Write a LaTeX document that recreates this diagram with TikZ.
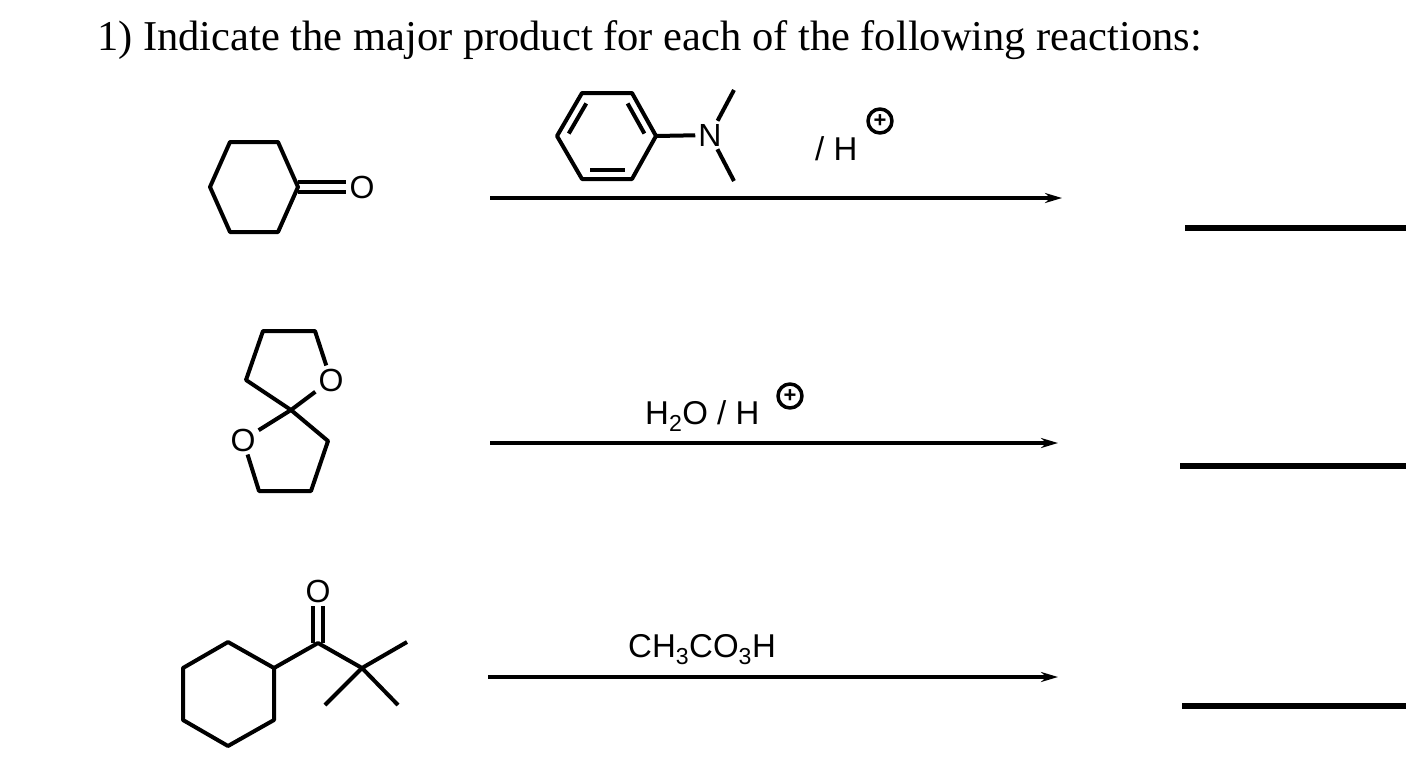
\documentclass[tikz,border=0pt]{standalone}
\usepackage{fontspec}
\setmainfont{Liberation Serif}
\setsansfont{Liberation Sans}
\usetikzlibrary{arrows.meta,calc}
\begin{document}
\begin{tikzpicture}[x=1pt,y=-1pt,line join=round,
  bond/.style={line width=4pt},
  atom/.style={font=\sffamily\fontsize{32}{32}\selectfont,inner sep=3pt},
  lbl/.style={font=\sffamily\fontsize{33}{33}\selectfont,inner sep=0pt},
  rxn/.style={line width=3.5pt,-{Stealth[length=17pt,width=10pt]}},
  ans/.style={line width=6pt},
  chg/.style={circle,draw,line width=3.5pt,minimum size=24pt,inner sep=0pt,font=\sffamily\bfseries\fontsize{22}{22}\selectfont}]
\useasboundingbox (0,0) rectangle (1406,756);
\node[anchor=base west,font=\fontsize{42.5}{42.5}\selectfont,inner sep=0pt] (title) at (97,50) {1) Indicate the major product for each of the following reactions:};
% cyclohexanone
\coordinate (a1) at (230,142); \coordinate (a2) at (278,142); \coordinate (a3) at (298,187);
\coordinate (a4) at (278,232); \coordinate (a5) at (230,232); \coordinate (a6) at (210,187);
\node[atom] (o1) at (362,187) {O};
\draw[bond] (a1)--(a2)--(a3)--(a4)--(a5)--(a6)--cycle;
\draw[bond] ([yshift=-5]a3) -- ([yshift=-5]o1.west);
\draw[bond] ([yshift=5]a3) -- ([yshift=5]o1.west);
% dimethylaniline
\coordinate (b1) at (582,93); \coordinate (b2) at (632,93); \coordinate (b3) at (656,136);
\coordinate (b4) at (632,179); \coordinate (b5) at (582,179); \coordinate (b6) at (557,136);
\draw[bond] (b1)--(b2)--(b3)--(b4)--(b5)--(b6)--cycle;
\draw[bond] ($(b2)!0.15!(b3)+(-8,4)$) -- ($(b2)!0.85!(b3)+(-8,4)$);
\draw[bond] ($(b4)!0.15!(b5)+(0,-9)$) -- ($(b4)!0.85!(b5)+(0,-9)$);
\draw[bond] ($(b6)!0.15!(b1)+(8,4)$) -- ($(b6)!0.85!(b1)+(8,4)$);
\node[atom] (n1) at (710,135) {N};
\coordinate (m1) at (734,90); \coordinate (m2) at (734,181);
\draw[bond] (b3) -- (n1); \draw[bond] (n1) -- (m1); \draw[bond] (n1) -- (m2);
\node[lbl,anchor=base west] (r1) at (815,160) {/ H};
\node[chg] (c1) at (880,121) {+};
\coordinate (s1) at (490,198); \coordinate (e1) at (1062,198);
\draw[rxn] (s1) -- (e1);
\coordinate (l1a) at (1185,228); \coordinate (l1b) at (1406,228);
\draw[ans] (l1a) -- (l1b);
% spiro ketal
\coordinate (sp) at (291,410);
\coordinate (t1) at (246,380); \coordinate (t2) at (263,331); \coordinate (t3) at (315,331);
\node[atom] (ot) at (331,380) {O};
\node[atom] (ob) at (243,440) {O};
\coordinate (u1) at (259,491); \coordinate (u2) at (311,491); \coordinate (u3) at (328,441);
\draw[bond] (sp)--(t1)--(t2)--(t3)--(ot)--(sp);
\draw[bond] (sp)--(ob)--(u1)--(u2)--(u3)--(sp);
\node[lbl,anchor=base west] (r2) at (645,424) {H\textsubscript{2}O / H};
\node[chg] (c2) at (790,396) {+};
\coordinate (s2) at (490,443); \coordinate (e2) at (1058,443);
\draw[rxn] (s2) -- (e2);
\coordinate (l2a) at (1180,466); \coordinate (l2b) at (1406,466);
\draw[ans] (l2a) -- (l2b);
% cyclohexyl tBu ketone
\coordinate (h1) at (228,642); \coordinate (h2) at (274,668); \coordinate (h3) at (274,720);
\coordinate (h4) at (228,746); \coordinate (h5) at (183,720); \coordinate (h6) at (183,668);
\draw[bond] (h1)--(h2)--(h3)--(h4)--(h5)--(h6)--cycle;
\coordinate (k) at (318,643); \node[atom] (o3) at (318,591) {O};
\coordinate (q) at (362,668);
\coordinate (q1) at (407,642); \coordinate (q2) at (398,705); \coordinate (q3) at (325,705);
\draw[bond] (h2)--(k)--(q)--(q1); \draw[bond] (q)--(q2); \draw[bond] (q)--(q3);
\draw[bond] ([xshift=-5]k) -- ([xshift=-5]o3.south);
\draw[bond] ([xshift=5]k) -- ([xshift=5]o3.south);
\node[lbl,anchor=base west] (r3) at (628,657) {CH\textsubscript{3}CO\textsubscript{3}H};
\coordinate (s3) at (488,677); \coordinate (e3) at (1058,677);
\draw[rxn] (s3) -- (e3);
\coordinate (l3a) at (1182,706); \coordinate (l3b) at (1406,706);
\draw[ans] (l3a) -- (l3b);
\end{tikzpicture}
\end{document}
